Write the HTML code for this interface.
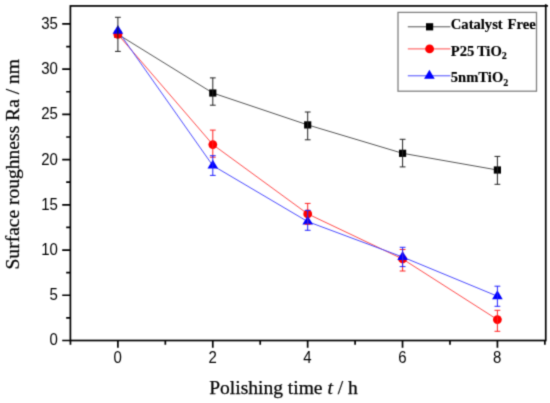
<!DOCTYPE html><html><head><meta charset="utf-8"><style>html,body{margin:0;padding:0;background:#fff;}svg{display:block;}</style></head><body>
<svg width="550" height="403" viewBox="0 0 550 403">
<defs><filter id="bl" color-interpolation-filters="sRGB" filterUnits="userSpaceOnUse" x="0" y="0" width="550" height="403"><feConvolveMatrix order="3" kernelMatrix="0.0256 0.1088 0.0256 0.1088 0.4624 0.1088 0.0256 0.1088 0.0256" edgeMode="duplicate"/></filter></defs>
<rect width="550" height="403" fill="#fff"/>
<g filter="url(#bl)">
<rect x="70.4" y="5.95" width="475.35" height="334.55" fill="none" stroke="#000" stroke-width="1.7"/>
<path d="M62.20 340.50H70.40 M62.20 295.27H70.40 M62.20 250.05H70.40 M62.20 204.82H70.40 M62.20 159.60H70.40 M62.20 114.38H70.40 M62.20 69.15H70.40 M62.20 23.93H70.40 M66.20 317.89H70.40 M66.20 272.66H70.40 M66.20 227.44H70.40 M66.20 182.21H70.40 M66.20 136.99H70.40 M66.20 91.76H70.40 M66.20 46.54H70.40 M117.90 340.50V347.70 M212.78 340.50V347.70 M307.66 340.50V347.70 M402.54 340.50V347.70 M497.42 340.50V347.70 M70.46 340.50V344.70 M165.34 340.50V344.70 M260.22 340.50V344.70 M355.10 340.50V344.70 M449.98 340.50V344.70 M544.86 340.50V344.70 M545.75 5.95V4.15M545.75 5.95H547.95" stroke="#000" stroke-width="1.7" fill="none"/>
<g font-family="Liberation Sans, Arial, sans-serif" font-size="15" fill="#000">
<text transform="translate(57.8 345.40) scale(1 1.05)" text-anchor="end">0</text>
<text transform="translate(57.8 300.17) scale(1 1.05)" text-anchor="end">5</text>
<text transform="translate(57.8 254.95) scale(1 1.05)" text-anchor="end">10</text>
<text transform="translate(57.8 209.72) scale(1 1.05)" text-anchor="end">15</text>
<text transform="translate(57.8 164.50) scale(1 1.05)" text-anchor="end">20</text>
<text transform="translate(57.8 119.28) scale(1 1.05)" text-anchor="end">25</text>
<text transform="translate(57.8 74.05) scale(1 1.05)" text-anchor="end">30</text>
<text transform="translate(57.8 28.83) scale(1 1.05)" text-anchor="end">35</text>
<text transform="translate(117.70 363) scale(1 1.05)" text-anchor="middle">0</text>
<text transform="translate(212.58 363) scale(1 1.05)" text-anchor="middle">2</text>
<text transform="translate(307.46 363) scale(1 1.05)" text-anchor="middle">4</text>
<text transform="translate(402.34 363) scale(1 1.05)" text-anchor="middle">6</text>
<text transform="translate(497.22 363) scale(1 1.05)" text-anchor="middle">8</text>
</g>
<text x="209.2" y="393.8" font-family="Liberation Serif, Times New Roman, serif" font-size="19.53" fill="#000" stroke="#000" stroke-width="0.25">Polishing time <tspan font-style="italic">t</tspan> / h</text>
<text transform="translate(19.3 269.5) rotate(-90)" x="0" y="0" font-family="Liberation Serif, Times New Roman, serif" font-size="19.55" fill="#000" stroke="#000" stroke-width="0.25">Surface roughness Ra / nm</text>
<polyline points="117.90,34.30 212.80,93.00 307.70,124.90 402.60,153.30 497.40,170.00" fill="none" stroke="#555" stroke-width="1"/>
<polyline points="117.90,34.40 212.80,144.60 307.70,213.90 402.60,259.00 497.40,319.60" fill="none" stroke="#ff4a4a" stroke-width="1"/>
<polyline points="117.90,30.90 212.80,165.60 307.70,221.60 402.60,257.00 497.40,296.20" fill="none" stroke="#4a4aff" stroke-width="1"/>
<rect x="114.30" y="30.70" width="7.2" height="7.2" fill="#000"/>
<rect x="209.20" y="89.40" width="7.2" height="7.2" fill="#000"/>
<rect x="304.10" y="121.30" width="7.2" height="7.2" fill="#000"/>
<rect x="399.00" y="149.70" width="7.2" height="7.2" fill="#000"/>
<rect x="493.80" y="166.40" width="7.2" height="7.2" fill="#000"/>
<circle cx="117.90" cy="34.40" r="4.4" fill="#f00"/>
<circle cx="212.80" cy="144.60" r="4.4" fill="#f00"/>
<circle cx="307.70" cy="213.90" r="4.4" fill="#f00"/>
<circle cx="402.60" cy="259.00" r="4.4" fill="#f00"/>
<circle cx="497.40" cy="319.60" r="4.4" fill="#f00"/>
<path d="M117.90 24.97L123.20 33.87L112.60 33.87Z" fill="#00f"/>
<path d="M212.80 159.67L218.10 168.57L207.50 168.57Z" fill="#00f"/>
<path d="M307.70 215.67L313.00 224.57L302.40 224.57Z" fill="#00f"/>
<path d="M402.60 251.07L407.90 259.97L397.30 259.97Z" fill="#00f"/>
<path d="M497.40 290.27L502.70 299.17L492.10 299.17Z" fill="#00f"/>
<path d="M117.90 17.30V51.40M115.00 17.30H120.80M115.00 51.40H120.80 M212.80 77.90V105.20M209.90 77.90H215.70M209.90 105.20H215.70 M307.70 112.00V139.80M304.80 112.00H310.60M304.80 139.80H310.60 M402.60 139.30V166.90M399.70 139.30H405.50M399.70 166.90H405.50 M497.40 156.40V184.30M494.50 156.40H500.30M494.50 184.30H500.30" stroke="#222" stroke-width="1" fill="none"/>
<path d="M212.80 130.10V157.20M209.90 130.10H215.70M209.90 157.20H215.70 M307.70 203.40V224.30M304.80 203.40H310.60M304.80 224.30H310.60 M402.60 249.50V271.00M399.70 249.50H405.50M399.70 271.00H405.50 M497.40 310.30V331.30M494.50 310.30H500.30M494.50 331.30H500.30" stroke="#f22" stroke-width="1" fill="none"/>
<path d="M212.80 155.70V175.40M209.90 155.70H215.70M209.90 175.40H215.70 M307.70 210.40V230.30M304.80 210.40H310.60M304.80 230.30H310.60 M402.60 247.30V266.60M399.70 247.30H405.50M399.70 266.60H405.50 M497.40 286.20V306.30M494.50 286.20H500.30M494.50 306.30H500.30" stroke="#22f" stroke-width="1" fill="none"/>
<rect x="398" y="12.4" width="138.5" height="78.8" fill="#fff" stroke="#808080" stroke-width="1.3"/>
<path d="M407.8 26.8H450.4" stroke="#555" stroke-width="1"/>
<rect x="426.00" y="23.20" width="7.2" height="7.2" fill="#000"/>
<path d="M407.8 48.9H450.4" stroke="#ff4a4a" stroke-width="1"/>
<circle cx="429.60" cy="48.90" r="4.4" fill="#f00"/>
<path d="M407.8 75.8H450.4" stroke="#4a4aff" stroke-width="1"/>
<path d="M429.40 69.87L434.70 78.77L424.10 78.77Z" fill="#00f"/>
<g font-family="Liberation Serif, Times New Roman, serif" font-weight="bold" font-size="14.6" stroke="#000" stroke-width="0.15" fill="#000">
<text x="450.8" y="29.3" word-spacing="1.2">Catalyst Free</text>
<text x="450.8" y="55.5" word-spacing="-0.8">P25 TiO<tspan font-size="10" dy="3.5">2</tspan></text>
<text x="450.8" y="82.0">5nmTiO<tspan font-size="10" dy="3.5">2</tspan></text>
</g>
</g></svg></body></html>
